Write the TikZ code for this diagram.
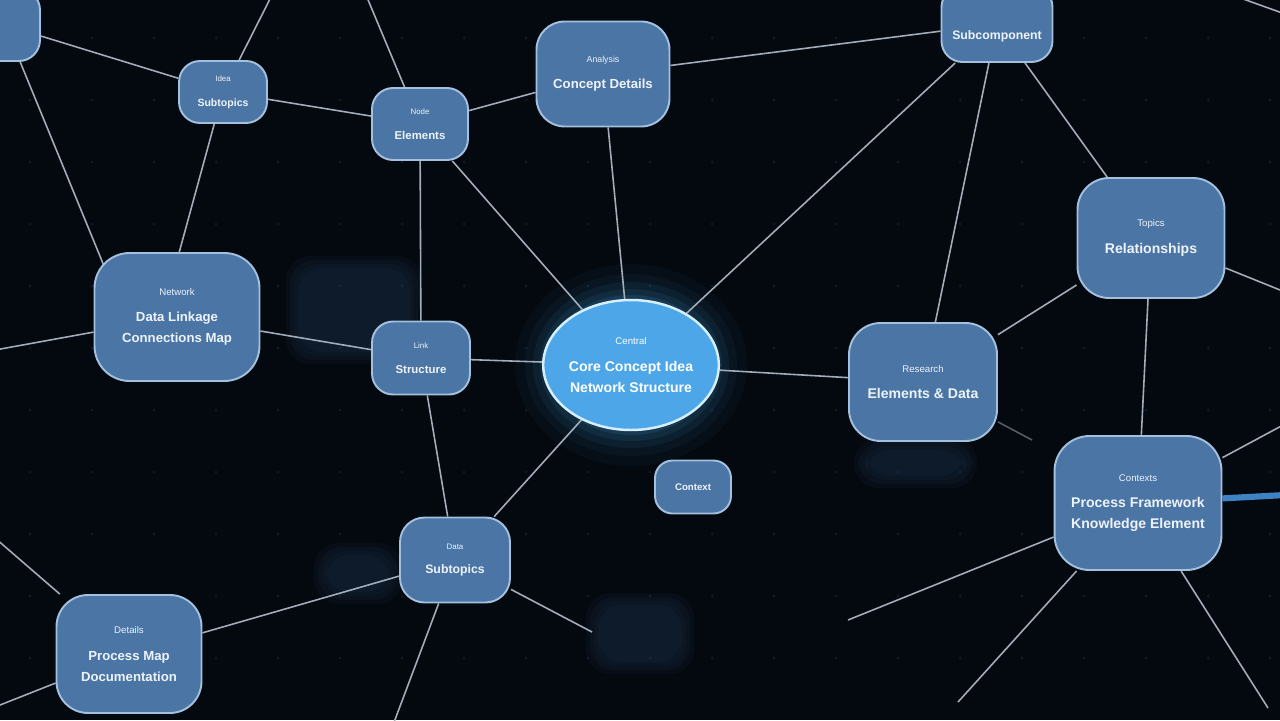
\documentclass[tikz,border=0pt]{standalone}
\usepackage{fontspec}
\setmainfont{Liberation Sans}
\usetikzlibrary{shapes.geometric}
\definecolor{bg}{HTML}{04090F}
\definecolor{nodefill}{HTML}{4A75A4}
\definecolor{nodeedge}{HTML}{A3C0DE}
\definecolor{hubfill}{HTML}{4CA6E8}
\definecolor{hubedge}{HTML}{D6EFFF}
\definecolor{linkc}{HTML}{A3ADBA}
\definecolor{txt}{HTML}{EEF3FA}
\definecolor{ghost}{HTML}{2A4A6E}
\definecolor{barblue}{HTML}{3E82C4}
\definecolor{dotc}{HTML}{0F1A28}
\newcommand\tsm[1]{\fontsize{#1}{#1}\selectfont}
\newcommand\tbf[1]{\fontsize{#1}{#1}\selectfont\bfseries}
\newcommand\ghostshape[4]{%
  \foreach \g in {0,4,8,12}
    \fill[ghost, opacity=0.09, rounded corners=14pt] (#1+\g,#2+\g) rectangle (#3-\g,#4-\g);}
\pgfdeclarelayer{back}
\pgfsetlayers{back,main}
\tikzset{
  box/.style={draw=nodeedge, line width=1.1pt, fill=nodefill, rounded corners=12pt,
    align=center, text=txt, inner sep=2pt},
  hub/.style={ellipse, draw=hubedge, line width=1.4pt, fill=hubfill, align=center,
    text=white, inner sep=0pt},
  link/.style={draw=linkc, line width=0.9pt},
}
\begin{document}
\begin{tikzpicture}[x=0.02cm,y=-0.02cm]
\begin{pgfonlayer}{back}
\fill[bg] (0,0) rectangle (1280,720);
\end{pgfonlayer}
\useasboundingbox (0,0) rectangle (1280,720);
\clip (0,0) rectangle (1280,720);
\begin{pgfonlayer}{back}
% faint dot grid
\foreach \i in {0,...,20} \foreach \j in {0,...,10}
  \fill[dotc] (30+\i*62, 38+\j*62) circle (1.5);
% ghost shapes
\ghostshape{286}{256}{422}{364}
\ghostshape{314}{543}{402}{604}
\ghostshape{586}{593}{694}{674}
\ghostshape{854}{438}{977}{488}
% glow around hub
\foreach \r/\o in {36/0.04,26/0.05,18/0.07,11/0.09,5/0.12}
  \fill[hubfill, opacity=\o] (631,365) ellipse ({80+\r} and {65+\r});
\end{pgfonlayer}

% nodes
\node[box, minimum width=1.4cm, minimum height=1.44cm] (n1) at (5,25) {};
\node[box, minimum width=1.76cm, minimum height=1.24cm] (n2) at (223,92)
  {\tsm{4.5}Idea\\[2pt]\tbf{6}Subtopics};
\node[box, minimum width=1.92cm, minimum height=1.44cm] (n3) at (420,124)
  {\tsm{4.5}Node\\[2pt]\tbf{6.5}Elements};
\node[box, rounded corners=16pt, minimum width=2.66cm, minimum height=2.1cm] (n4) at (603,74)
  {\tsm{5}Analysis\\[3pt]\tbf{7.5}Concept Details};
\node[box, minimum width=2.22cm, minimum height=1.52cm] (n5) at (997,24)
  {\tsm{5}\strut\\[4pt]\tbf{7}Subcomponent};
\node[box, rounded corners=18pt, minimum width=2.94cm, minimum height=2.4cm] (n6) at (1151,238)
  {\tsm{5.5}Topics\\[3pt]\tbf{8}Relationships};
\node[box, rounded corners=20pt, minimum width=3.3cm, minimum height=2.56cm] (n7) at (177,317)
  {\tsm{5.5}Network\\[3pt]\tbf{7.5}Data Linkage\\\tbf{7.5}Connections Map};
\node[box, minimum width=1.96cm, minimum height=1.46cm] (n8) at (421,358)
  {\tsm{4.5}Link\\[2pt]\tbf{6.5}Structure};
\node[hub, minimum width=3.18cm, minimum height=2.6cm] (hub) at (631,365)
  {\tsm{5.5}Central\\[3pt]\tbf{8}Core Concept Idea\\\tbf{8}Network Structure};
\node[box, rounded corners=18pt, minimum width=2.96cm, minimum height=2.36cm] (n10) at (923,382)
  {\tsm{5.5}Research\\[3pt]\tbf{8}Elements \& Data};
\node[box, rounded corners=10pt, minimum width=1.52cm, minimum height=1.06cm] (n11) at (693,487)
  {\tbf{5.5}Context};
\node[box, rounded corners=20pt, minimum width=3.34cm, minimum height=2.68cm] (n12) at (1138,503)
  {\tsm{5.5}Contexts\\[3pt]\tbf{8}Process Framework\\\tbf{8}Knowledge Element};
\node[box, rounded corners=14pt, minimum width=2.2cm, minimum height=1.7cm] (n13) at (455,560)
  {\tsm{4.5}Data\\[2pt]\tbf{7}Subtopics};
\node[box, rounded corners=18pt, minimum width=2.9cm, minimum height=2.36cm] (n14) at (129,654)
  {\tsm{5.5}Details\\[3pt]\tbf{7.5}Process Map\\\tbf{7.5}Documentation};

% free ends
\coordinate (k7) at (125,317);
\coordinate (t2) at (272,-5);
\coordinate (t3) at (366,-5);
\coordinate (tr1) at (1232,-5);
\coordinate (tr2) at (1285,14);
\coordinate (r6) at (1285,292);
\coordinate (l7) at (-5,350);
\coordinate (r12) at (1285,424);
\coordinate (bar) at (1285,495);
\coordinate (e12a) at (848,620);
\coordinate (e12b) at (958,702);
\coordinate (e12c) at (1268,708);
\coordinate (b13) at (393,725);
\coordinate (e13) at (592,632);
\coordinate (l14a) at (-5,538);
\coordinate (l14b) at (-5,707);
\coordinate (f10) at (1032,440);

\begin{pgfonlayer}{back}
\draw[link] (n1) -- (n2);
\draw[link] (n1) -- (k7);
\draw[link] (n2) -- (t2);
\draw[link] (n2) -- (n3);
\draw[link] (n2) -- (n7.88);
\draw[link] (n3) -- (t3);
\draw[link] (n3) -- (n4);
\draw[link] (n3) -- (n8);
\draw[link] (n3) -- (hub);
\draw[link] (n4) -- (n5);
\draw[link] (n4) -- (hub);
\draw[link] (n5) -- (hub);
\draw[link] (n5) -- (n10);
\draw[link] (n5) -- (n6);
\draw[link] (tr1) -- (tr2);
\draw[link] (n6) -- (r6);
\draw[link] (n6) -- (n10);
\draw[link] (n6) -- (n12);
\draw[link] (n7) -- (l7);
\draw[link] (n7) -- (n8);
\draw[link] (n8) -- (hub);
\draw[link] (n8) -- (n13);
\draw[link] (hub) -- (n10);
\draw[link] (hub) -- (n13);
\draw[link, opacity=0.5] (n10) -- (f10);
\draw[link] (n12) -- (r12);
\draw[barblue, line width=3.5pt] (n12) -- (bar);
\draw[link] (n12) -- (e12a);
\draw[link] (n12) -- (e12b);
\draw[link] (n12) -- (e12c);
\draw[link] (n13) -- (b13);
\draw[link] (n13) -- (e13);
\draw[link] (n13) -- (n14);
\draw[link] (n14) -- (l14a);
\draw[link] (n14) -- (l14b);
\end{pgfonlayer}
\end{tikzpicture}
\end{document}
